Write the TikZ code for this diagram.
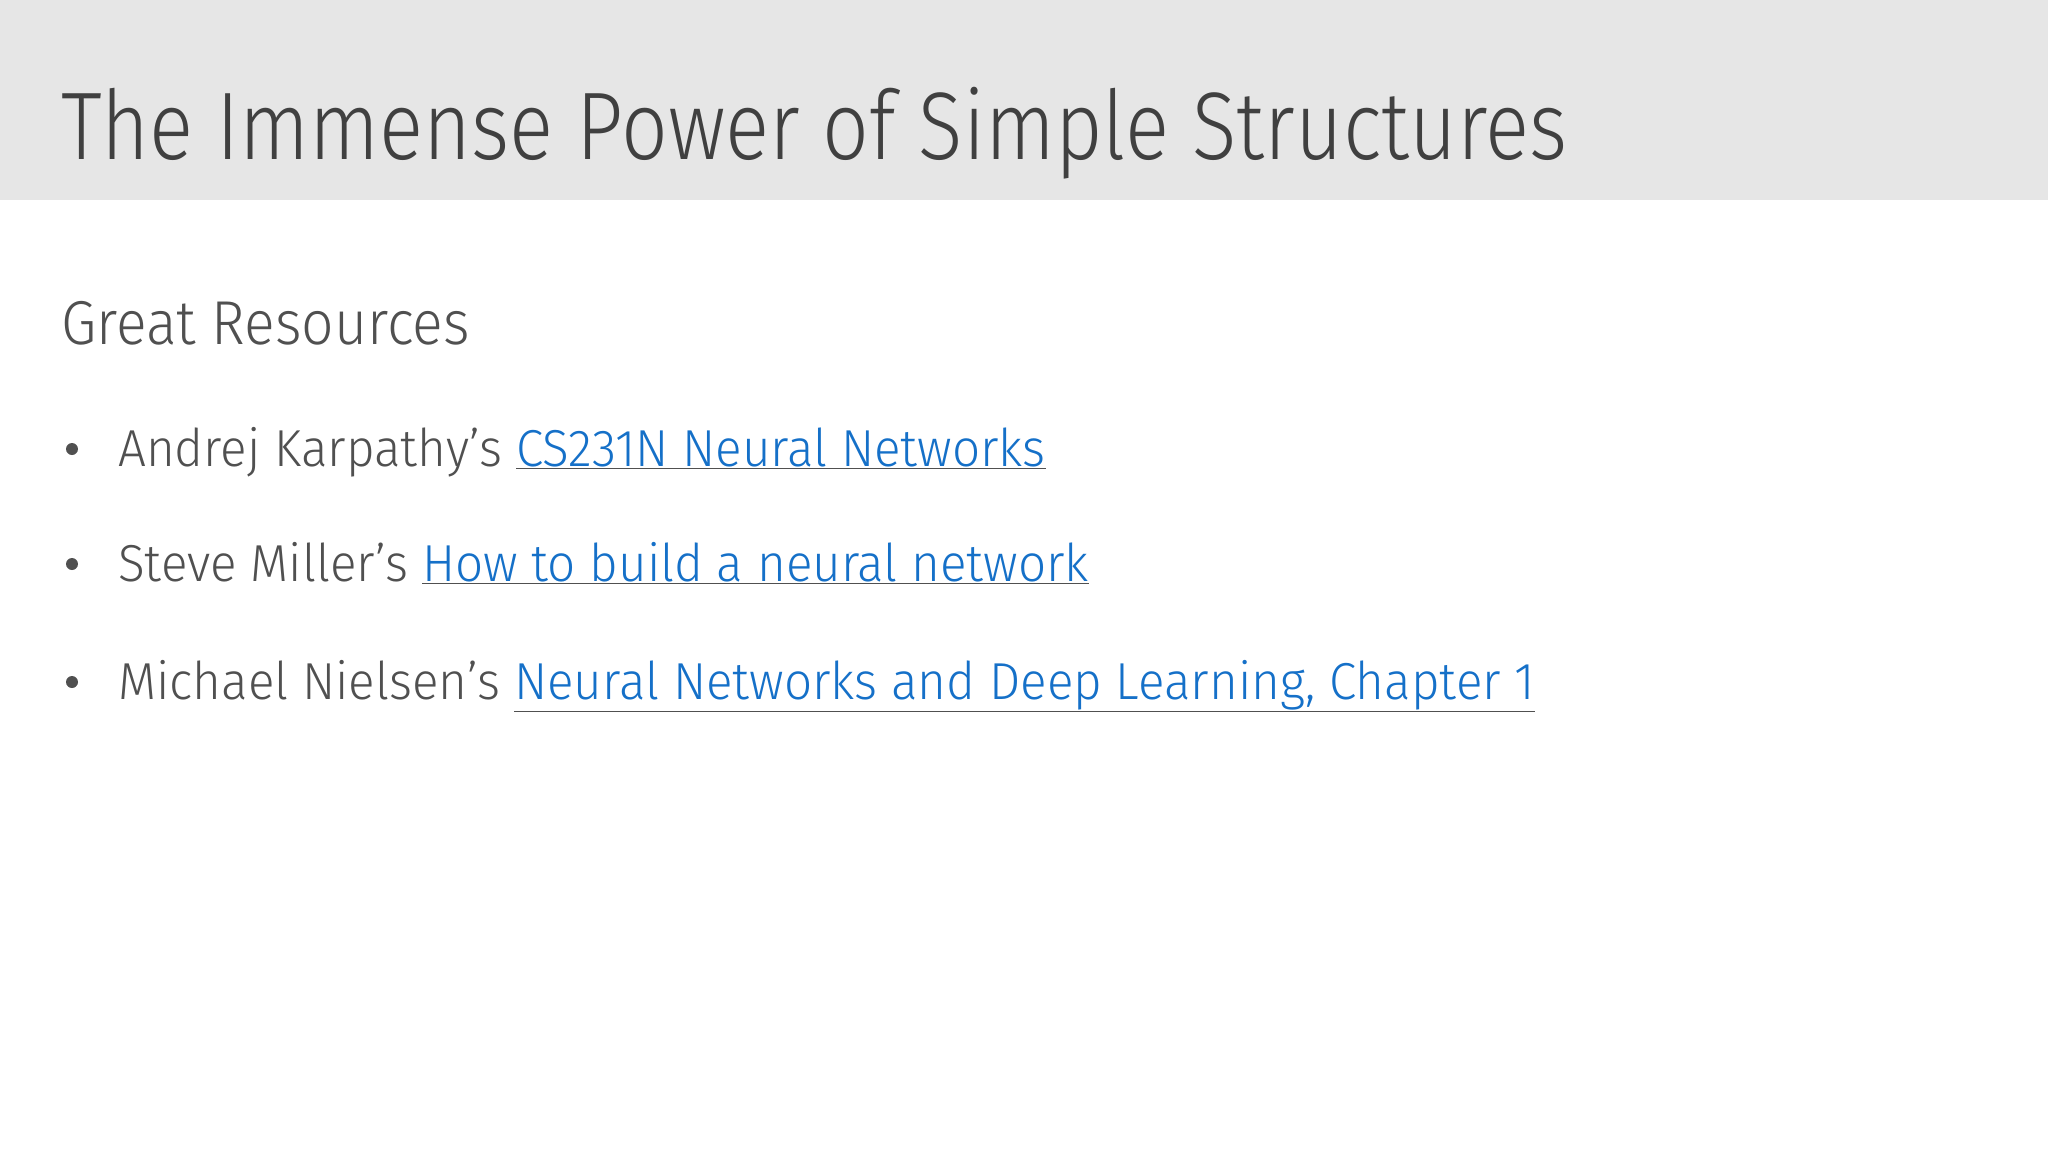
\documentclass[tikz,border=0pt]{standalone}
\usepackage{fontspec}
\setmainfont{Fira Sans}[UprightFont=* Light]
\definecolor{hdr}{HTML}{E6E6E6}
\definecolor{ttl}{HTML}{404040}
\definecolor{txt}{HTML}{505050}
\definecolor{lnk}{HTML}{1570C8}
\newcommand{\lk}[1]{\underline{\textcolor{lnk}{#1}}}
\begin{document}
\begin{tikzpicture}[x=1pt,y=-1pt,
  txtnode/.style={anchor=base west,inner sep=0pt,text=txt,font=\fontsize{52}{60}\selectfont\addfontfeature{FakeStretch=0.95}},
  dotnode/.style={circle,fill=txt,inner sep=0pt,minimum size=12pt}]
\useasboundingbox (0,0) rectangle (2048,1151);
\fill[hdr] (0,0) rectangle (2048,200);
\node[anchor=base west,inner sep=0pt,text=ttl,font=\fontsize{96}{110}\selectfont\addfontfeature{FakeStretch=0.855}] (title) at (61,159) {The Immense Power of Simple Structures};
\node[anchor=base west,inner sep=0pt,text=txt,font=\fontsize{62}{70}\selectfont\addfontfeature{FakeStretch=0.92}] (sub) at (61,344) {Great Resources};
\node[dotnode] (d1) at (72,449) {};
\node[dotnode] (d2) at (72,564) {};
\node[dotnode] (d3) at (72,682) {};
\node[txtnode] (b1) at (118,466) {Andrej Karpathy’s \lk{CS231N Neural Networks}};
\node[txtnode] (b2) at (118,581) {Steve Miller’s \lk{How to build a neural network}};
\node[txtnode] (b3) at (118,699) {Michael Nielsen’s \lk{Neural Networks and Deep Learning, Chapter 1}};
\end{tikzpicture}
\end{document}
